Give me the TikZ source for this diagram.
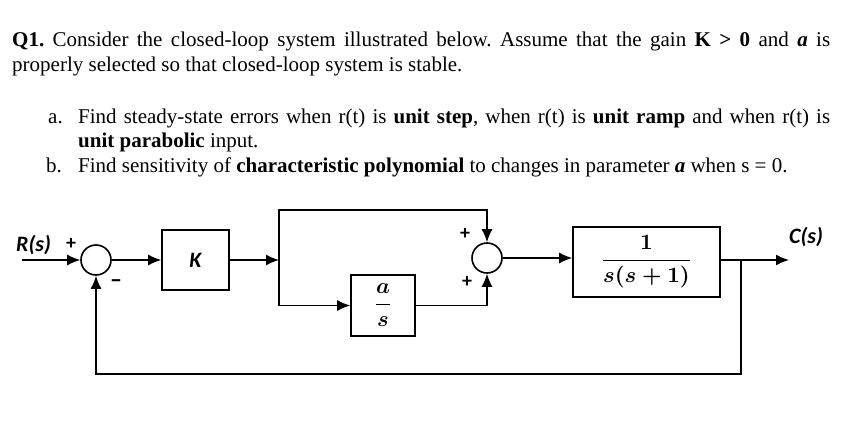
\documentclass[tikz,border=0pt]{standalone}
\usepackage{fontspec}
\usepackage{amsmath}
\usepackage{graphicx}
\setmainfont{Liberation Serif}
\newfontfamily\calibri{Carlito}
\usetikzlibrary{arrows.meta}
\frenchspacing
\newcommand{\tfblk}[1]{\scalebox{2.2}{\boldmath$#1$}}

\tikzset{
	blk/.style={draw=black, line width=1.6pt, inner sep=0pt},
	sumj/.style={draw=black, circle, line width=1.6pt, minimum size=30pt, inner sep=0pt},
	sig/.style={draw=black, line width=1.4pt, -{Latex[length=13pt,width=11pt]}},
	lbl/.style={inner sep=0pt, font=\calibri\bfseries\itshape\fontsize{22}{22}\selectfont},
	sgn/.style={inner sep=0pt, font=\calibri\bfseries\fontsize{20}{20}\selectfont},
	txt/.style={anchor=base west, inner sep=0pt, font=\fontsize{21}{24}\selectfont},
}

\begin{document}
\begin{tikzpicture}[x=1pt, y=-1pt]
	\useasboundingbox (0,0) rectangle (868,444);
	% question
	\node[txt] (q1a) at (12,47) {\makebox[818pt][s]{\textbf{Q1.} Consider the closed-loop system illustrated below. Assume that the gain \textbf{K > 0} and \textbf{\textit{a}} is}};
	\node[txt] (q1b) at (12,72) {properly selected so that closed-loop system is stable.};
	\node[txt] (ia) at (48,124) {a.};
	\node[txt] (ta1) at (78,124) {\makebox[752pt][s]{Find steady-state errors when r(t) is \textbf{unit step}, when r(t) is \textbf{unit ramp} and when r(t) is}};
	\node[txt] (ta2) at (78,147) {\textbf{unit parabolic} input.};
	\node[txt] (ib) at (46,172) {b.};
	\node[txt] (tb) at (78,172) {Find sensitivity of \textbf{characteristic polynomial} to changes in parameter \textbf{\textit{a}} when s = 0.};

	% blocks
	\node[sumj] (s1) at (96,260) {};
	\node[blk, minimum width=67pt, minimum height=60pt] (k) at (195.5,260) {};
	\node[lbl] (klbl) at (k) {K};
	\node[sumj] (s2) at (487,258) {};
	\node[blk, minimum width=64pt, minimum height=61pt] (as) at (383,305.5) {\tfblk{\dfrac{a}{s}}};
	\node[blk, minimum width=147pt, minimum height=70pt] (g) at (646.5,262) {\tfblk{\dfrac{1}{s(s+1)}}};

	\coordinate (in) at (22,260);
	\coordinate (br1) at (279,260);
	\coordinate (top) at (279,210);
	\coordinate (out) at (789,260);
	\coordinate (br2) at (741,260);
	\coordinate (fb) at (741,374);

	% labels
	\node[lbl, anchor=base west] (r) at (16,251) {R(s)};
	\node[lbl, anchor=base west] (c) at (789,243) {C(s)};
	\node[sgn] (p1) at (71,244) {+};
	\node[sgn, font=\calibri\bfseries\fontsize{24}{24}\selectfont] (m1) at (116,284) {–};
	\node[sgn] (p2) at (465,234) {+};
	\node[sgn] (p3) at (467,282) {+};

	% signal lines
	\draw[sig] (in) -- (s1);
	\draw[sig] (s1) -- (k);
	\draw[sig] (k) -- (br1);
	\draw[sig] (br1) -- (top) -| (s2.north);
	\draw[sig] (br1) |- (as.west);
	\draw[sig] (as.east) -| (s2.south);
	\draw[sig] (s2) -- (g.west |- s2);
	\draw[sig] (g.east |- out) -- (out);
	\draw[sig] (br2) -- (fb) -| (s1.south);
\end{tikzpicture}
\end{document}
